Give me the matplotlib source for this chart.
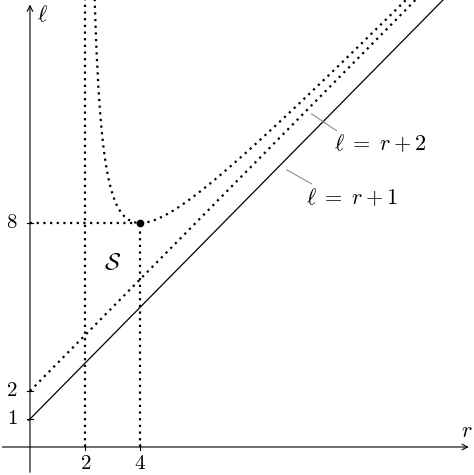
import numpy as np
import matplotlib
matplotlib.use("Agg")
import matplotlib.pyplot as plt
plt.rcParams['mathtext.fontset'] = 'cm'
plt.rcParams['font.family'] = 'serif'
plt.rcParams['font.serif'] = ['DejaVu Serif']

xticks = [2, 4]
yticks = [1, 2, 8]
point = (4, 8)

fig = plt.figure(figsize=(4.74, 4.75), dpi=100)
ax = fig.add_axes([0, 0, 1, 1])
ax.set_xlim(-30/27.6, (474-30)/27.6)
ax.set_ylim(-28/28.0, 447/28.0)
ax.axis('off')

dot = dict(color='black', lw=1.6, ls=(0, (1, 2)))
ax.annotate('', xy=(16.0, 0), xytext=(-1.1, 0), arrowprops=dict(arrowstyle='->', lw=0.8))
ax.annotate('', xy=(0, 15.9), xytext=(0, -1.0), arrowprops=dict(arrowstyle='->', lw=0.8))
ax.text(15.6, 0.35, r'$r$', fontsize=16)
ax.text(0.25, 15.2, r'$\ell$', fontsize=16)
for t in xticks:
    ax.plot([t, t], [-0.12, 0.12], color='k', lw=0.8)
    ax.text(t, -0.6, f'${t}$', ha='center', va='center', fontsize=15)
for t in yticks:
    ax.plot([-0.12, 0.12], [t, t], color='k', lw=0.8)
    ax.text(-0.45, t, f'${t}$', ha='right', va='center', fontsize=15)

r = np.linspace(-0.05, 15.2, 50)
ax.plot(r, r + 1, color='k', lw=0.9)
r2 = np.linspace(0, 14.1, 50)
ax.plot(r2, r2 + 2, **dot)
rc = np.linspace(2.33, 14.1, 400)
ax.plot(rc, rc**2/(rc-2), **dot)
ax.plot([2, 2], [0, 16], **dot)
ax.plot([4, 4], [0, 8], **dot)
ax.plot([0, 4], [8, 8], **dot)
ax.plot(*point, 'ko', ms=4.5)
ax.text(3.0, 6.6, r'$\mathcal{S}$', fontsize=17, ha='center', va='center')

ax.plot([10.2, 11.1], [11.9, 11.3], color='gray', lw=0.7)
ax.text(11.0, 10.8, r'$\ell\;=\;r+2$', fontsize=16, va='center')
ax.plot([9.3, 10.2], [9.9, 9.4], color='gray', lw=0.7)
ax.text(10.0, 8.9, r'$\ell\;=\;r+1$', fontsize=16, va='center')

fig.savefig('out.png', dpi=100)
